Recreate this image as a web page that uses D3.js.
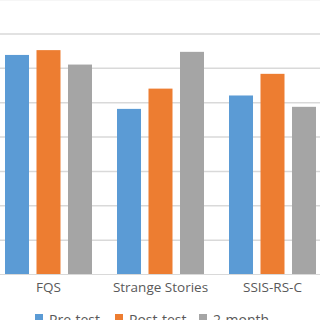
<!DOCTYPE html>
<html>
<head>
<meta charset="utf-8">
<script src="https://cdn.jsdelivr.net/npm/d3@7"></script>
<style>
  html, body { margin: 0; padding: 0; background: #fff; }
  svg { display: block; }
</style>
</head>
<body>
<svg id="chart" width="320" height="320"></svg>
<script>
'use strict';

const categories = ['FQS', 'Strange Stories', 'SSIS-RS-C'];
const seriesNames = ['Pre-test', 'Post-test', '2-month'];
const preTest = [6.39, 4.82, 5.21];
const postTest = [6.53, 5.41, 5.84];
const twoMonth = [6.11, 6.48, 4.88];
const yTicks = [0, 1, 2, 3, 4, 5, 6, 7, 8];

const colors = ['#5B9BD5', '#ED7D31', '#A5A5A5'];
const seriesValues = [preTest, postTest, twoMonth];

const svg = d3.select('#chart'),
   width = +svg.attr('width'),
   height = +svg.attr('height');

const baseline = 274.5;

const y = d3.scaleLinear()
   .domain([0, 8])
   .range([baseline, baseline - 8 * 34.36]);

const x0 = d3.scaleBand()
   .domain(categories)
   .range([-7.5, 328.5])
   .padding(0);

const x1 = d3.scaleBand()
   .domain(seriesNames)
   .range([12.5, 99.5])
   .paddingInner(0.238)
   .paddingOuter(0);

// gridlines
svg.append('g')
   .selectAll('line')
   .data(yTicks.slice(1))
   .join('line')
   .attr('x1', 0)
   .attr('x2', width)
   .attr('y1', d => y(d))
   .attr('y2', d => y(d))
   .attr('stroke', '#D9D9D9')
   .attr('stroke-width', 1.5);

// bars
const groups = svg.append('g')
   .selectAll('g')
   .data(categories)
   .join('g')
   .attr('transform', d => `translate(${x0(d)},0)`);

groups.selectAll('rect')
   .data((c, ci) => seriesNames.map((s, si) => ({ s: s, si: si, v: seriesValues[si][ci] })))
   .join('rect')
   .attr('x', d => x1(d.s))
   .attr('width', x1.bandwidth())
   .attr('y', d => y(d.v))
   .attr('height', d => y(0) - y(d.v))
   .attr('fill', d => colors[d.si]);

// baseline
svg.append('line')
   .attr('x1', 0)
   .attr('x2', width)
   .attr('y1', baseline)
   .attr('y2', baseline)
   .attr('stroke', '#D9D9D9')
   .attr('stroke-width', 1);

// category labels
const xAxis = d3.axisBottom(x0).tickSize(0).tickPadding(0);
const gx = svg.append('g')
   .attr('transform', `translate(0,${baseline})`)
   .call(xAxis);
gx.select('.domain').remove();
gx.selectAll('text')
   .attr('dy', null)
   .attr('y', 17.5)
   .attr('fill', '#595959')
   .style('font-family', '"Open Sans", sans-serif')
   .style('font-size', '13.5px');

// legend (cut by the bottom edge, as in the source image)
const legendX = [35, 115, 199];
const legend = svg.append('g')
   .selectAll('g')
   .data(seriesNames)
   .join('g')
   .attr('transform', (d, i) => `translate(${legendX[i]},0)`);

legend.append('rect')
   .attr('x', 0)
   .attr('y', 314)
   .attr('width', 8)
   .attr('height', 8)
   .attr('fill', (d, i) => colors[i]);

legend.append('text')
   .attr('x', 14)
   .attr('y', 325)
   .attr('fill', '#595959')
   .style('font-family', '"Open Sans", sans-serif')
   .style('font-size', '14px')
   .text(d => d);
</script>
</body>
</html>
